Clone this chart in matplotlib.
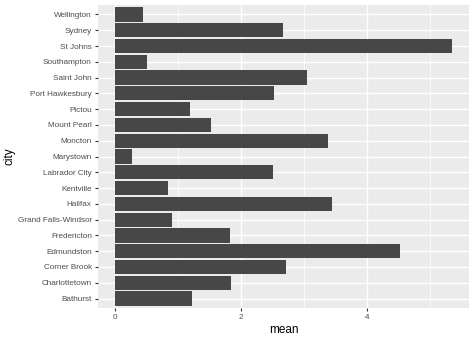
import matplotlib
matplotlib.use("Agg")
from matplotlib import pyplot as plt
from matplotlib.ticker import MultipleLocator

plt.rcParams["font.family"] = ["Liberation Sans", "DejaVu Sans"]

# cities listed bottom to top, as on the axis
cities = ["Bathurst", "Charlottetown", "Corner Brook", "Edmundston", "Fredericton",
          "Grand Falls-Windsor", "Halifax", "Kentville", "Labrador City", "Marystown",
          "Moncton", "Mount Pearl", "Pictou", "Port Hawkesbury", "Saint John",
          "Southampton", "St Johns", "Sydney", "Wellington"]
means = [1.22, 1.85, 2.71, 4.53, 1.83,
         0.91, 3.45, 0.84, 2.51, 0.27,
         3.38, 1.53, 1.19, 2.53, 3.04,
         0.51, 5.35, 2.67, 0.45]
x_ticks = [0, 2, 4]

fig = plt.figure(figsize=(4.74, 3.38), dpi=100)
ax = fig.add_axes([98 / 474, 30 / 338, 371 / 474, 303 / 338])
ax.set_facecolor("#ebebeb")

ypos = list(range(len(cities)))
ax.barh(ypos, means, height=0.9, color="#474747", zorder=3)

top = max(means)
pad = top * 0.05
ax.set_xlim(-pad, top + pad)
ax.set_ylim(-0.6, len(cities) - 0.4)

ax.set_xticks(x_ticks)
ax.xaxis.set_minor_locator(MultipleLocator(1))
ax.set_yticks(ypos)
ax.set_yticklabels(cities)

ax.grid(which="major", color="white", linewidth=1.0, zorder=0)
ax.grid(which="minor", axis="x", color="white", linewidth=0.5, zorder=0)
for s in ax.spines.values():
    s.set_visible(False)

ax.tick_params(axis="both", which="major", length=2.5, width=0.8, color="#333333",
               labelsize=5.9, labelcolor="#4d4d4d", pad=2)
ax.tick_params(axis="x", which="minor", length=0)

ax.set_xlabel("mean", fontsize=8.5, labelpad=2)
ax.set_ylabel("city", fontsize=8.5, va="center")
ax.yaxis.set_label_coords(-88 / 371, 0.5)

fig.savefig("out.png", dpi=100)
